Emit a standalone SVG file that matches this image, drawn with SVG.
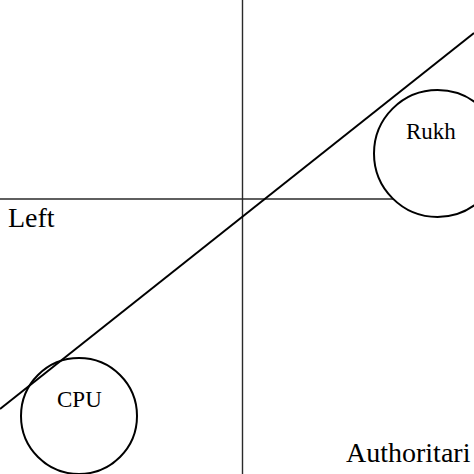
<svg xmlns="http://www.w3.org/2000/svg" width="474" height="474" viewBox="0 0 474 474">
<style>
.axis{stroke:#2a2a2a;stroke-width:1.4;fill:none}
.line{stroke:#000;stroke-width:2;fill:none}
.node{stroke:#000;stroke-width:2;fill:none}
text{font-family:"Liberation Serif","Times New Roman",serif;fill:#000}
</style>
<rect width="474" height="474" fill="#fff"/>
<g id="connectors">
<line class="axis" x1="242.5" y1="0" x2="242.5" y2="474"/>
<line class="axis" x1="0" y1="199" x2="393" y2="199"/>
<line class="line" x1="0" y1="409" x2="474" y2="33"/>
</g>
<g id="rukh">
<circle class="node" cx="437.5" cy="153.5" r="63.5"/>
<text x="406" y="139" font-size="23">Rukh</text>
</g>
<g id="cpu">
<circle class="node" cx="79" cy="416" r="58"/>
<text x="57" y="407" font-size="23">CPU</text>
</g>
<g id="labels">
<text x="8" y="227" font-size="28">Left</text>
<text x="346" y="462" font-size="28">Authoritari</text>
</g>
</svg>
